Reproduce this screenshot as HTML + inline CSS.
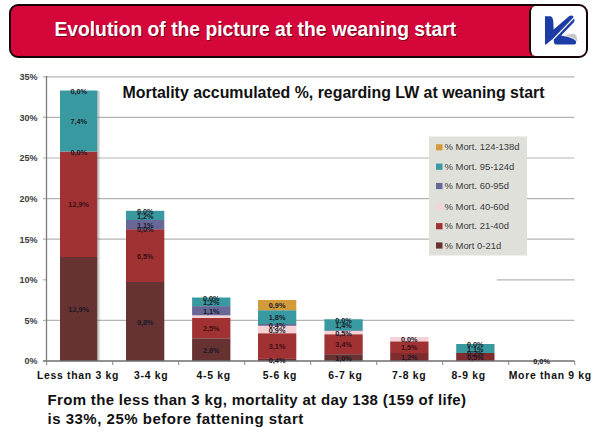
<!DOCTYPE html>
<html><head><meta charset="utf-8">
<style>
html,body{margin:0;padding:0;background:#fff;}
body{width:600px;height:435px;position:relative;overflow:hidden;font-family:"Liberation Sans",Arial,sans-serif;}
.hdr{position:absolute;left:9px;top:4px;width:575px;height:49.5px;background:#d4063a;border:2px solid #140406;border-radius:9px;overflow:hidden;}
.hdr .t{position:absolute;left:43.4px;top:12.7px;color:#fff;font-weight:bold;font-size:19.3px;white-space:nowrap;text-shadow:0.7px 0.7px 0.5px rgba(60,0,15,.7);}
.hdr .lg{position:absolute;left:517.5px;top:0;width:60px;height:49.5px;background:#fff;border-left:2px solid #140406;border-radius:6px 0 0 6px;}
.ct{position:absolute;left:122.5px;top:83.5px;font-size:15.9px;font-weight:bold;white-space:nowrap;color:#111;}
.bt{position:absolute;left:47.5px;font-size:15px;font-weight:bold;color:#111;white-space:nowrap;}
svg.c{position:absolute;left:0;top:0;}
</style></head><body>
<div class="hdr"><div class="t">Evolution of the picture at the weaning start</div><div class="lg"></div></div>
<svg width="40" height="36" viewBox="0 0 483 435" style="position:absolute;left:540px;top:12px">
<path d="M305 283 Q385 252 428 272 Q452 298 450 352 L440 350 Q425 312 335 296 Z" fill="#c6c6c6"/>
<path d="M60 50 L125 52 Q155 60 160 110 L165 210 L350 50 Q385 35 405 55 L400 70 L150 330 L68 395 Q60 395 60 380 Z" fill="#1d3da6"/>
<path d="M412 80 Q425 100 410 125 L255 285 Q350 300 405 325 Q440 345 438 372 Q435 392 410 393 L190 393 Q170 390 168 365 L165 335 Z" fill="#1d3da6"/>
</svg>
<svg class="c" width="600" height="435" viewBox="0 0 600 435" style="font-family:'Liberation Sans',Arial,sans-serif">
 <g stroke="#b4b4b4" stroke-width="1.2"><line x1="43" y1="320.4" x2="574.5" y2="320.4"/><line x1="43" y1="239.2" x2="574.5" y2="239.2"/><line x1="43" y1="198.6" x2="574.5" y2="198.6"/><line x1="43" y1="158.0" x2="574.5" y2="158.0"/><line x1="43" y1="117.4" x2="574.5" y2="117.4"/><line x1="43" y1="76.8" x2="574.5" y2="76.8"/><line x1="43" y1="279.8" x2="46.5" y2="279.8"/><line x1="497" y1="279.8" x2="574.5" y2="279.8"/></g>
 <line x1="46.5" y1="76" x2="46.5" y2="361" stroke="#7a7a7a" stroke-width="1.3"/>
 <g font-size="9" fill="#3c3c3c" font-weight="bold" text-anchor="end"><text x="37.5" y="364.3">0%</text><text x="37.5" y="323.7">5%</text><text x="37.5" y="283.1">10%</text><text x="37.5" y="242.5">15%</text><text x="37.5" y="201.9">20%</text><text x="37.5" y="161.3">25%</text><text x="37.5" y="120.7">30%</text><text x="37.5" y="80.1">35%</text></g>
 <defs><linearGradient id="sh" x1="0" x2="1" y1="0" y2="0"><stop offset="0" stop-color="#6a7474" stop-opacity="0.55"/><stop offset="1" stop-color="#6a7474" stop-opacity="0"/></linearGradient></defs><rect x="97.3" y="91" width="3.5" height="270" fill="url(#sh)"/><g><rect x="60.0" y="257.0" width="37.3" height="104.0" fill="#663232"/><rect x="60.0" y="151.5" width="37.3" height="105.5" fill="#a03234"/><rect x="60.0" y="90.5" width="37.3" height="61.0" fill="#389aa0"/><rect x="126.0" y="282.0" width="38.3" height="79.0" fill="#663232"/><rect x="126.0" y="229.2" width="38.3" height="52.8" fill="#a03234"/><rect x="126.0" y="220.0" width="38.3" height="9.2" fill="#686898"/><rect x="126.0" y="210.8" width="38.3" height="9.2" fill="#389aa0"/><rect x="192.1" y="338.3" width="38.3" height="22.7" fill="#663232"/><rect x="192.1" y="318.0" width="38.3" height="20.3" fill="#a03234"/><rect x="192.1" y="315.3" width="38.3" height="2.7" fill="#f4d2d5"/><rect x="192.1" y="306.1" width="38.3" height="9.2" fill="#686898"/><rect x="192.1" y="297.5" width="38.3" height="8.6" fill="#389aa0"/><rect x="258.0" y="358.9" width="38.3" height="2.1" fill="#663232"/><rect x="258.0" y="333.2" width="38.3" height="25.7" fill="#a03234"/><rect x="258.0" y="325.8" width="38.3" height="7.4" fill="#f4d2d5"/><rect x="258.0" y="324.0" width="38.3" height="1.8" fill="#686898"/><rect x="258.0" y="310.2" width="38.3" height="13.8" fill="#389aa0"/><rect x="258.0" y="300.0" width="38.3" height="10.2" fill="#d39a3a"/><rect x="324.4" y="354.2" width="38.3" height="6.8" fill="#663232"/><rect x="324.4" y="334.2" width="38.3" height="20.0" fill="#a03234"/><rect x="324.4" y="331.0" width="38.3" height="3.2" fill="#f4d2d5"/><rect x="324.4" y="330.3" width="38.3" height="0.7" fill="#686898"/><rect x="324.4" y="319.3" width="38.3" height="11.0" fill="#389aa0"/><rect x="390.2" y="353.0" width="38.3" height="8.0" fill="#7e2c2e"/><rect x="390.2" y="341.3" width="38.3" height="11.7" fill="#a03234"/><rect x="390.2" y="337.0" width="38.3" height="4.3" fill="#f4d2d5"/><rect x="456.2" y="353.0" width="38.3" height="8.0" fill="#7e2c2e"/><rect x="456.2" y="344.0" width="38.3" height="9.0" fill="#389aa0"/></g>
 <line x1="43" y1="361" x2="574.5" y2="361" stroke="#6e6e6e" stroke-width="1.7"/>
 <g stroke="#888" stroke-width="1"><line x1="46.7" y1="361" x2="46.7" y2="365"/><line x1="112.7" y1="361" x2="112.7" y2="365"/><line x1="178.7" y1="361" x2="178.7" y2="365"/><line x1="244.7" y1="361" x2="244.7" y2="365"/><line x1="310.7" y1="361" x2="310.7" y2="365"/><line x1="376.7" y1="361" x2="376.7" y2="365"/><line x1="442.7" y1="361" x2="442.7" y2="365"/><line x1="508.7" y1="361" x2="508.7" y2="365"/><line x1="574.7" y1="361" x2="574.7" y2="365"/></g>
 <g font-size="7.3" font-weight="bold" fill="#1a1a28" text-anchor="middle"><text x="78.7" y="312.2">12,9%</text><text x="78.7" y="207.4" fill="#3c0e10">12,9%</text><text x="78.7" y="154.7">0,0%</text><text x="78.7" y="124.2">7,4%</text><text x="78.7" y="93.7">0,0%</text><text x="145.2" y="324.7">9,8%</text><text x="145.2" y="258.8" fill="#3c0e10">6,5%</text><text x="145.2" y="232.4">0,0%</text><text x="145.2" y="227.8">1,1%</text><text x="145.2" y="218.6">1,2%</text><text x="145.2" y="214.0">0,0%</text><text x="211.2" y="352.8">2,6%</text><text x="211.2" y="331.3" fill="#3c0e10">2,5%</text><text x="211.2" y="313.9">1,1%</text><text x="211.2" y="305.0">1,2%</text><text x="211.2" y="300.7">0,0%</text><text x="277.1" y="363.1">0,4%</text><text x="277.1" y="349.2" fill="#3c0e10">3,1%</text><text x="277.1" y="332.7">0,9%</text><text x="277.1" y="328.1">0,4%</text><text x="277.1" y="320.3">1,8%</text><text x="277.1" y="308.3">0,9%</text><text x="343.5" y="360.8">1,0%</text><text x="343.5" y="347.4" fill="#3c0e10">3,4%</text><text x="343.5" y="335.8">0,5%</text><text x="343.5" y="328.0">1,4%</text><text x="343.5" y="322.5">0,0%</text><text x="409.3" y="360.2">1,2%</text><text x="409.3" y="350.3" fill="#3c0e10">1,5%</text><text x="409.3" y="342.3">0,0%</text><text x="475.3" y="360.2">0,5%</text><text x="475.3" y="356.2">0,2%</text><text x="475.3" y="351.7">1,1%</text><text x="475.3" y="347.2">0,0%</text><text x="541.6" y="364.2">0,0%</text></g>
 <g font-size="10.4" font-weight="bold" fill="#111" letter-spacing="0.7"><text x="37.00" y="379">Less than 3 kg</text><text x="134.00" y="379">3-4 kg</text><text x="196.50" y="379">4-5 kg</text><text x="262.75" y="379">5-6 kg</text><text x="328.25" y="379">6-7 kg</text><text x="392.00" y="379">7-8 kg</text><text x="451.50" y="379">8-9 kg</text><text x="508.75" y="379">More than 9 kg</text></g>
 <rect x="429" y="136.5" width="98" height="119" fill="#dfe0da"/>
 <g font-size="9.45" fill="#3a3a3a"><rect x="436" y="144.2" width="6.5" height="6.2" fill="#d39a3a"/><text x="444.5" y="150.3">% Mort. 124-138d</text><rect x="436" y="163.6" width="6.5" height="6.2" fill="#389aa0"/><text x="444.5" y="169.7">% Mort. 95-124d</text><rect x="436" y="182.9" width="6.5" height="6.2" fill="#686898"/><text x="444.5" y="189.0">% Mort. 60-95d</text><rect x="436" y="203.8" width="6.5" height="6.2" fill="#f4d2d5"/><text x="444.5" y="209.9">% Mort. 40-60d</text><rect x="436" y="223.1" width="6.5" height="6.2" fill="#a03234"/><text x="444.5" y="229.2">% Mort. 21-40d</text><rect x="436" y="242.4" width="6.5" height="6.2" fill="#663232"/><text x="444.5" y="248.5">% Mort 0-21d</text></g>
</svg>
<div class="ct">Mortality accumulated %, regarding LW at weaning start</div>
<div class="bt" style="top:391px;letter-spacing:0.33px">From the less than 3 kg, mortality at day 138 (159 of life)</div>
<div class="bt" style="top:410px;letter-spacing:0.5px">is 33%, 25% before fattening start</div>
</body></html>
